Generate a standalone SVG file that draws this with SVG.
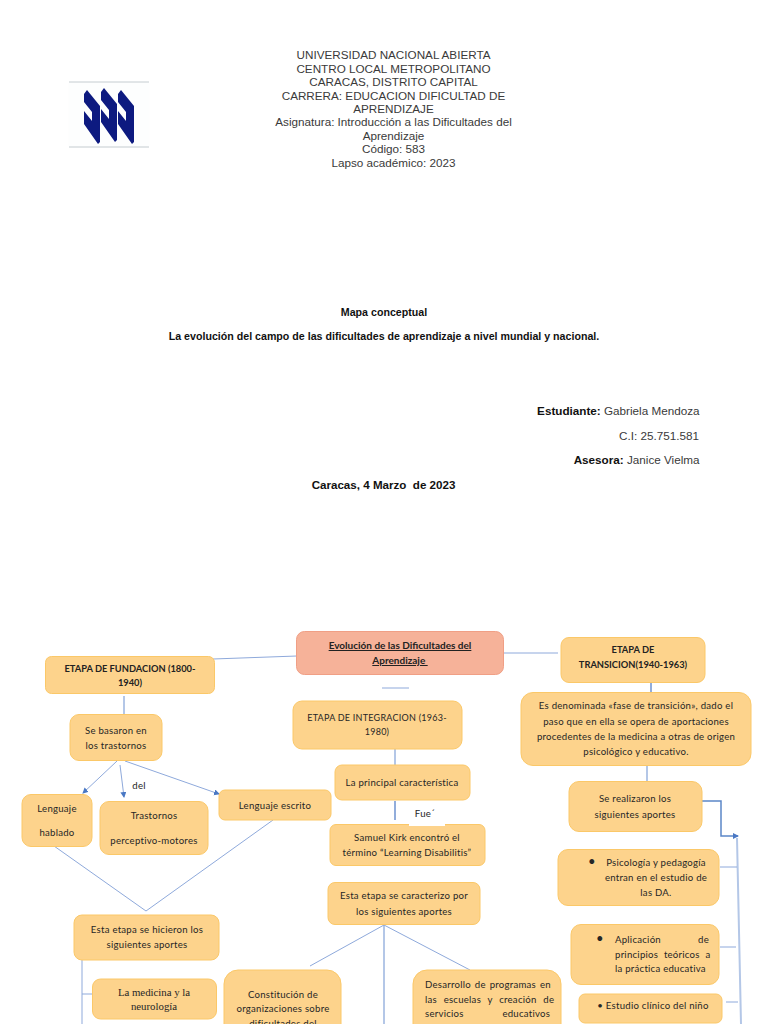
<svg xmlns="http://www.w3.org/2000/svg" width="768" height="1024" viewBox="0 0 768 1024">
<style>
text{white-space:pre}
.h{font-family:"Liberation Sans",Arial,sans-serif;font-size:11.7px;fill:#3a3a3a;text-anchor:middle}
.b{font-family:"Liberation Sans",Arial,sans-serif;font-size:10.65px;font-weight:bold;fill:#111;text-anchor:middle}
.s{font-family:"Liberation Sans",Arial,sans-serif;font-size:11.7px;fill:#3a3a3a}
.n{font-family:Lato,"Open Sans",sans-serif;font-size:9.6px;fill:#262626;text-anchor:middle;letter-spacing:.25px}
.j{text-anchor:start}
.nb{font-family:Lato,"Open Sans",sans-serif;font-size:9.3px;font-weight:bold;fill:#222;text-anchor:middle}
.t{font-family:"Liberation Serif",serif;font-size:10.8px;fill:#262626;text-anchor:middle}
.box{fill:#fdd38c;stroke:#fbc868;stroke-width:1}
.l{fill:none;stroke:#8ea9db;stroke-width:1}
.p{fill:none;stroke:#b4c7e7;stroke-width:2}
.m{fill:none;stroke:#6f93cf;stroke-width:1.5}
.d{fill:none;stroke:#5b86c8;stroke-width:1.5}
</style>
<defs><marker id="a" markerWidth="8" markerHeight="8" refX="5" refY="3" orient="auto" markerUnits="userSpaceOnUse"><path d="M0,0L6,3L0,6z" fill="#4a78c4"/></marker>
<path id="c" d="M0 4L3 0L16 16V52L14 54L0 34V21L8 31V22L0 12z" fill="#0d1a80"/></defs>
<rect width="768" height="1024" fill="#fff"/>
<g id="logo"><rect x="68.500" y="82.500" width="81" height="64" fill="#fdfefe"/><path d="M69 82H149M69 147H149" stroke="#c4ccd0"/>
<use href="#c" x="84" y="90"/><use href="#c" x="101" y="88"/><use href="#c" x="118" y="90"/></g>
<g id="header">
<text class="h" x="393.500" y="59">UNIVERSIDAD NACIONAL ABIERTA</text>
<text class="h" x="393.500" y="73">CENTRO LOCAL METROPOLITANO</text>
<text class="h" x="393.500" y="86">CARACAS, DISTRITO CAPITAL</text>
<text class="h" x="393.500" y="100">CARRERA: EDUCACION DIFICULTAD DE</text>
<text class="h" x="393.500" y="113">APRENDIZAJE</text>
<text class="h" x="393.500" y="126">Asignatura: Introducción a las Dificultades del</text>
<text class="h" x="393.500" y="140">Aprendizaje</text>
<text class="h" x="393.500" y="153">Código: 583</text>
<text class="h" x="393.500" y="167">Lapso académico: 2023</text>
<text class="b" x="384" y="316">Mapa conceptual</text>
<text class="b" x="384" y="340">La evolución del campo de las dificultades de aprendizaje a nivel mundial y nacional.</text>
<text class="s" x="699.500" y="415" text-anchor="end"><tspan font-weight="bold" fill="#111">Estudiante:</tspan> Gabriela Mendoza</text>
<text class="s" x="699" y="440" text-anchor="end">C.I: 25.751.581</text>
<text class="s" x="699.500" y="464" text-anchor="end"><tspan font-weight="bold" fill="#111">Asesora:</tspan> Janice Vielma</text>
<text class="b" x="383.500" y="489" style="font-size:11.6px">Caracas, 4 Marzo  de 2023</text>
</g>
<g id="connectors">
<path class="p" d="M124 696V714M395 748V765M647 766V781M384 925V1024M737 838L741 1024"/>
<path class="m" d="M651 673V692M395 801V820"/>
<path class="l" d="M213 659L297 656M504 653H558M54 846L146 911L273 820M82 960V1024M82 994H95M382 688H409M310 966L384 925L470 970M720 867H737M720 947H736M726 1002H738"/>
<path class="l" d="M117 761L83 793" marker-end="url(#a)"/>
<path class="l" d="M120 765L124 797" marker-end="url(#a)"/>
<path class="l" d="M125 761L219 794" marker-end="url(#a)"/>
<path class="d" d="M702 801H721V836H738" marker-end="url(#a)"/>
</g>
<g id="root"><rect x="296.500" y="631.500" width="207" height="43" rx="8" fill="#f6b299" stroke="#f09f85"/>
<text class="nb" x="400" y="649" style="font-size:10px" text-decoration="underline">Evolución de las Dificultades del</text><text class="nb" x="400" y="664" style="font-size:10px" text-decoration="underline">Aprendizaje </text></g>
<g id="fundacion"><rect class="box" x="45.500" y="656.500" width="169" height="37" rx="6"/><text class="nb" x="130" y="672">ETAPA DE FUNDACION (1800-</text><text class="nb" x="130" y="686">1940)</text></g>
<g id="basaron"><rect class="box" x="70" y="714.500" width="92" height="46" rx="9"/><text class="n" x="116" y="734">Se basaron en</text><text class="n" x="116" y="749">los trastornos</text></g>
<g id="hablado"><rect class="box" x="22" y="794.500" width="70" height="52" rx="9"/><text class="n" x="57" y="812">Lenguaje</text><text class="n" x="57" y="836">hablado</text></g>
<g id="perceptivo"><rect class="box" x="100" y="801.500" width="108" height="53" rx="9"/><text class="n" x="154" y="819">Trastornos</text><text class="n" x="154" y="844">perceptivo-motores</text></g>
<text class="n" x="139" y="789">del</text>
<g id="escrito"><rect class="box" x="219" y="790" width="112" height="30" rx="6"/><text class="n" x="275" y="809">Lenguaje escrito</text></g>
<g id="aportes1"><rect class="box" x="74" y="915" width="145" height="45" rx="8"/><text class="n" x="147" y="933">Esta etapa se hicieron los</text><text class="n" x="147" y="948">siguientes aportes</text></g>
<g id="medicina"><rect class="box" x="92.500" y="979" width="124" height="40" rx="8"/><text class="t" x="154" y="996">La medicina y la</text><text class="t" x="154" y="1010">neurología</text></g>
<g id="integracion"><rect class="box" x="293" y="701" width="169" height="48" rx="9"/><text class="n" x="377" y="721" style="font-size:9px">ETAPA DE INTEGRACION (1963-</text><text class="n" x="377" y="735" style="font-size:9px">1980)</text></g>
<g id="principal"><rect class="box" x="335" y="765" width="135" height="35" rx="7"/><text class="n" x="402" y="786">La principal característica</text></g>
<g id="kirk"><rect class="box" x="330" y="824.500" width="155" height="41" rx="6"/><text class="n" x="407" y="841">Samuel Kirk encontró el</text><text class="n" x="407" y="856">término “Learning Disabilitis”</text></g>
<rect x="409" y="808" width="36" height="18" fill="#fff"/>
<text class="n" x="425" y="817">Fue´</text>
<g id="caracterizo"><rect class="box" x="328" y="882.500" width="152" height="42" rx="7"/><text class="n" x="404" y="899">Esta etapa se caracterizo por</text><text class="n" x="404" y="915">los siguientes aportes</text></g>
<g id="constitucion"><rect class="box" x="224" y="970" width="117" height="70" rx="14"/><text class="n" x="283" y="998">Constitución de</text><text class="n" x="283" y="1012">organizaciones sobre</text><text class="n" x="283" y="1027">dificultades del</text></g>
<g id="desarrollo"><rect class="box" x="413" y="970" width="148" height="70" rx="14"/><text class="n j" x="425" y="988" word-spacing="1.200">Desarrollo de programas en</text><text class="n j" x="425" y="1003" word-spacing="4">las escuelas y creación de</text><text class="n j" x="425" y="1017" word-spacing="36">servicios educativos</text></g>
<g id="transicion"><rect class="box" x="561" y="637.500" width="144" height="45" rx="8"/><text class="nb" x="633" y="653">ETAPA DE</text><text class="nb" x="633" y="668">TRANSICION(1940-1963)</text></g>
<g id="fase"><rect class="box" x="521" y="692.500" width="230" height="73" rx="12"/><text class="n" x="636" y="709">Es denominada «fase de transición», dado el</text><text class="n" x="636" y="725">paso que en ella se opera de aportaciones</text><text class="n" x="636" y="740">procedentes de la medicina a otras de origen</text><text class="n" x="636" y="755">psicológico y educativo.</text></g>
<g id="realizaron"><rect class="box" x="569" y="781.500" width="133" height="50" rx="10"/><text class="n" x="635" y="802">Se realizaron los</text><text class="n" x="635" y="818">siguientes aportes</text></g>
<g id="psicologia"><rect class="box" x="558" y="849.500" width="161" height="56" rx="10"/><text class="n" x="592" y="866" style="font-size:13px">•</text><text class="n" x="656" y="866">Psicología y pedagogía</text><text class="n" x="656" y="881">entran en el estudio de</text><text class="n" x="656" y="896">las DA.</text></g>
<g id="aplicacion"><rect class="box" x="571" y="924.500" width="148" height="60" rx="10"/><text class="n" x="600" y="943" style="font-size:13px">•</text><text class="n j" x="615" y="943">Aplicación</text><text class="n" x="709" y="943" style="text-anchor:end">de</text><text class="n j" x="615" y="958" word-spacing="3">principios teóricos a</text><text class="n j" x="615" y="972">la práctica educativa</text></g>
<g id="clinico"><rect class="box" x="579" y="994" width="143" height="29" rx="6"/><text class="n" x="653" y="1009">• Estudio clínico del niño</text></g>
</svg>
